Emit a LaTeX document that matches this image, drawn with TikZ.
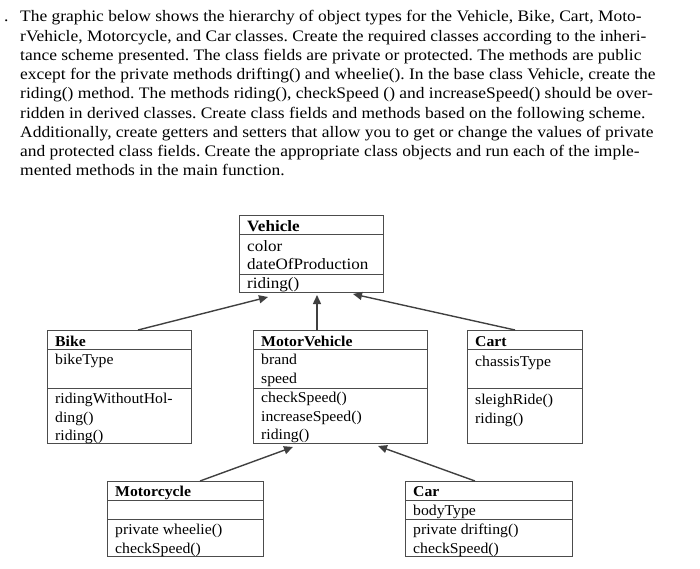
\documentclass[tikz,border=0pt]{standalone}
\usepackage{fontspec}
\setmainfont{Liberation Serif}
\newfontfamily\bodyfont[FakeStretch=1.09]{Liberation Serif}
\newfontfamily\boxfont[FakeStretch=1.05]{Liberation Serif}
\newfontfamily\vehfont[FakeStretch=1.08]{Liberation Serif}
\usetikzlibrary{arrows.meta,calc}
\tikzset{
  body/.style={anchor=base west, inner sep=0pt, font=\bodyfont\fontsize{16}{19}\selectfont\frenchspacing},
  cls/.style={draw=black!70, line width=0.9pt, inner sep=0pt, outer sep=0pt, anchor=north west},
  txt/.style={anchor=base west, inner sep=0pt, font=\boxfont\fontsize{15}{18}\selectfont},
  hdr/.style={txt, font=\boxfont\fontsize{15}{18}\selectfont\bfseries},
  vtxt/.style={anchor=base west, inner sep=0pt, font=\vehfont\fontsize{15.8}{18}\selectfont},
  vhdr/.style={vtxt, font=\vehfont\fontsize{15.8}{18}\selectfont\bfseries},
  divl/.style={draw=black!70, line width=0.9pt},
  inh/.style={draw=black!75, line width=1.4pt, -{Triangle[length=9pt,width=8pt]}}
}
\begin{document}
\begin{tikzpicture}[x=1pt,y=-1pt]
\useasboundingbox (0,0) rectangle (700,569);
% text
\node[body] (dot) at (4,22) {.};
\node[body] (l1) at (20,22) {The graphic below shows the hierarchy of object types for the Vehicle, Bike, Cart, Moto-};
\node[body] (l2) at (20,41.25) {rVehicle, Motorcycle, and Car classes. Create the required classes according to the inheri-};
\node[body] (l3) at (20,60.5) {tance scheme presented. The class fields are private or protected. The methods are public};
\node[body] (l4) at (20,79.75) {except for the private methods drifting() and wheelie(). In the base class Vehicle, create the};
\node[body] (l5) at (20,99) {riding() method. The methods riding(), checkSpeed () and increaseSpeed() should be over-};
\node[body] (l6) at (20,118.25) {ridden in derived classes. Create class fields and methods based on the following scheme.};
\node[body] (l7) at (20,137.5) {Additionally, create getters and setters that allow you to get or change the values of private};
\node[body] (l8) at (20,156.75) {and protected class fields. Create the appropriate class objects and run each of the imple-};
\node[body] (l9) at (20,176) {mented methods in the main function.};

% Vehicle
\node[cls, minimum width=144pt, minimum height=77pt] (veh) at (239,215) {};
\draw[divl] (239,234) -- (383,234) (239,274) -- (383,274);
\node[vhdr] at (247,231) {Vehicle};
\node[vtxt] at (247,251) {color};
\node[vtxt] at (247,269) {dateOfProduction};
\node[vtxt] at (247,288) {riding()};

% Bike
\node[cls, minimum width=144pt, minimum height=113pt] (bike) at (47,330) {};
\draw[divl] (47,349) -- (191,349) (47,388) -- (191,388);
\node[hdr] at (55,346) {Bike};
\node[txt] at (55,364) {bikeType};
\node[txt] at (55,403) {ridingWithoutHol-};
\node[txt] at (55,422) {ding()};
\node[txt] at (55,440) {riding()};

% MotorVehicle
\node[cls, minimum width=174pt, minimum height=113pt] (mv) at (253,330) {};
\draw[divl] (253,349) -- (427,349) (253,388) -- (427,388);
\node[hdr] at (261,346) {MotorVehicle};
\node[txt] at (261,364) {brand};
\node[txt] at (261,383) {speed};
\node[txt] at (261,402) {checkSpeed()};
\node[txt] at (261,421) {increaseSpeed()};
\node[txt] at (261,439) {riding()};

% Cart
\node[cls, minimum width=115pt, minimum height=113pt] (cart) at (467,330) {};
\draw[divl] (467,349) -- (582,349) (467,388) -- (582,388);
\node[hdr] at (475,346) {Cart};
\node[txt] at (475,366) {chassisType};
\node[txt] at (475,404) {sleighRide()};
\node[txt] at (475,423) {riding()};

% Motorcycle
\node[cls, minimum width=156pt, minimum height=75pt] (moto) at (107,481) {};
\draw[divl] (107,500) -- (263,500) (107,519) -- (263,519);
\node[hdr] at (115,496) {Motorcycle};
\node[txt] at (115,534) {private wheelie()};
\node[txt] at (115,553) {checkSpeed()};

% Car
\node[cls, minimum width=167pt, minimum height=75pt] (car) at (405,481) {};
\draw[divl] (405,500) -- (572,500) (405,519) -- (572,519);
\node[hdr] at (413,496) {Car};
\node[txt] at (413,515) {bodyType};
\node[txt] at (413,534) {private drifting()};
\node[txt] at (413,553) {checkSpeed()};

% inheritance arrows
\draw[inh] ($(bike.north west)+(91,0)$) -- ($(veh.south west)+(29,5)$);
\draw[inh] ($(mv.north west)+(64,0)$) -- ($(veh.south west)+(78,3)$);
\draw[inh] ($(cart.north west)+(48,0)$) -- ($(veh.south west)+(114,2)$);
\draw[inh] ($(moto.north west)+(93,0)$) -- ($(mv.south west)+(40,4)$);
\draw[inh] ($(car.north west)+(70,0)$) -- ($(mv.south west)+(125,3)$);
\end{tikzpicture}
\end{document}
